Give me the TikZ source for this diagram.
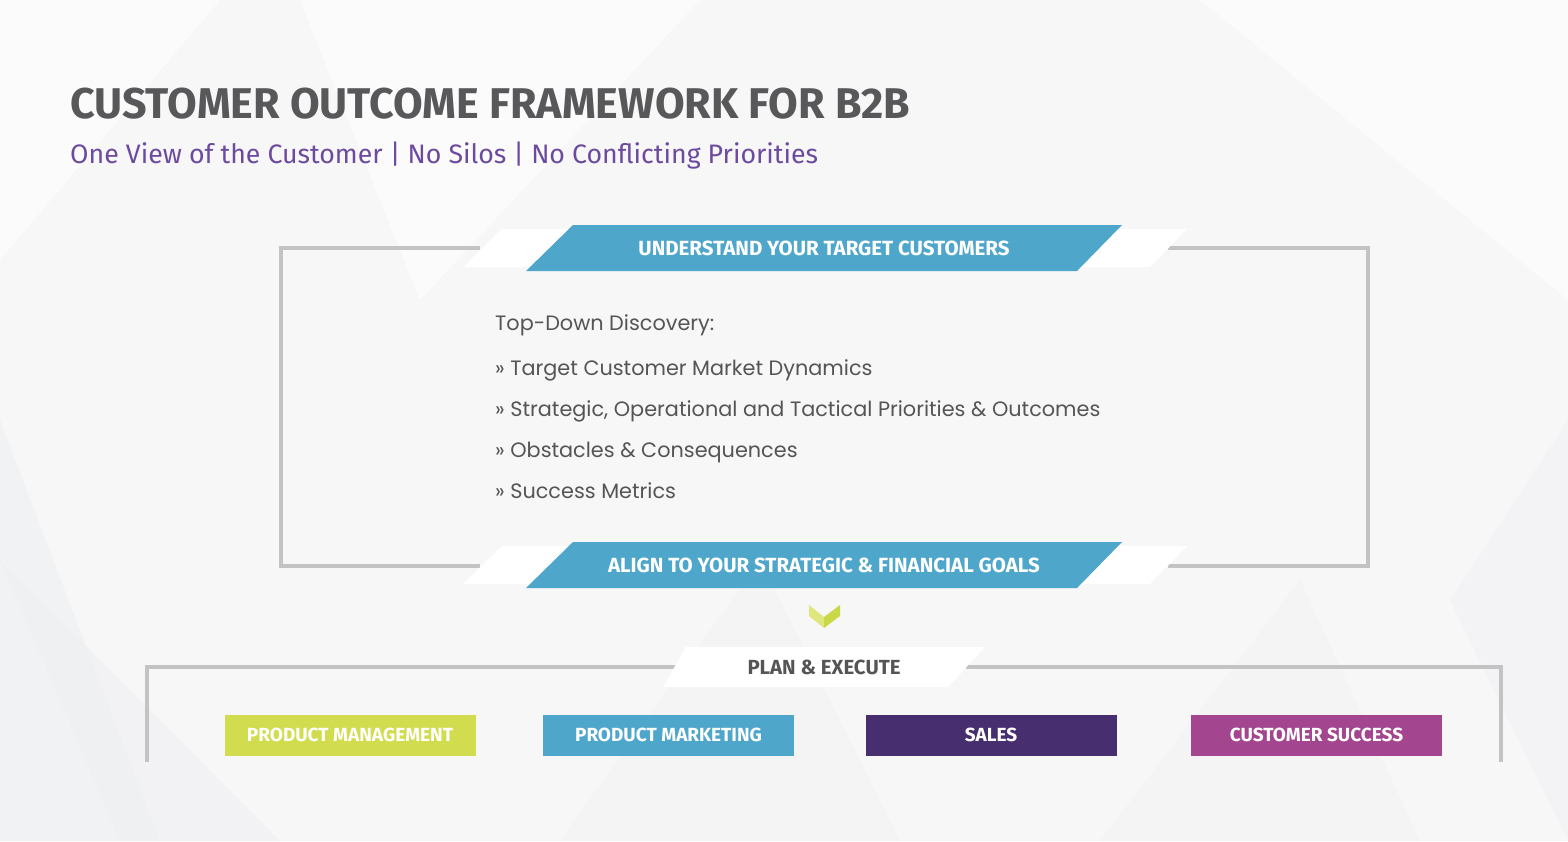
\documentclass[tikz,border=0pt]{standalone}
\usepackage{fontspec}
\setmainfont{Fira Sans}
\newfontfamily\headfont{Fira Sans}
\newfontfamily\bodyfont{Poppins}
\newfontfamily\subfont{Fira Sans}
\usetikzlibrary{calc}
\definecolor{bgc}{HTML}{F7F7F8}
\definecolor{facet}{HTML}{EEEFF1}
\definecolor{frame}{HTML}{C3C3C3}
\definecolor{bannerblue}{HTML}{4EA6CB}
\definecolor{titlegray}{HTML}{58585A}
\definecolor{subpurple}{HTML}{6C4A9E}
\definecolor{bodygray}{HTML}{555555}
\definecolor{lime}{HTML}{D1DC4F}
\definecolor{limelight}{HTML}{DFE67E}
\definecolor{limedark}{HTML}{C8D846}
\definecolor{salespurple}{HTML}{472E6E}
\definecolor{csmagenta}{HTML}{A3458F}
\tikzset{
  frameline/.style={draw=frame, line width=4pt},
  whiteband/.style={fill=white, draw=none},
  bluebanner/.style={fill=bannerblue, draw=none},
  bannertext/.style={text=white, font=\headfont\bfseries\fontsize{20.5}{24}\selectfont, inner sep=0pt},
  bodytext/.style={anchor=base west, inner sep=0pt, text=bodygray, font=\bodyfont\fontsize{20.8}{24}\selectfont},
  teambox/.style={minimum width=251pt, minimum height=41pt, inner sep=0pt, text=white,
    font=\headfont\bfseries\fontsize{19}{22}\selectfont},
}
\begin{document}
\begin{tikzpicture}[x=1pt,y=-1pt]
\useasboundingbox (0,0) rectangle (1568,841);
% background
\fill[bgc] (0,0) rectangle (1568,841);
\fill[facet, opacity=0.6] (0,420) -- (160,841) -- (0,841) -- cycle;
\fill[facet, opacity=0.5] (0,560) -- (280,841) -- (120,841) -- cycle;
\fill[white, opacity=0.6] (300,0) -- (700,0) -- (420,300) -- cycle;
\fill[white, opacity=0.5] (1200,0) -- (1568,0) -- (1568,300) -- cycle;
\fill[facet, opacity=0.4] (1450,600) -- (1568,420) -- (1568,841) -- cycle;
\fill[facet, opacity=0.3] (560,841) -- (760,560) -- (900,841) -- cycle;
\fill[facet, opacity=0.3] (1100,841) -- (1300,580) -- (1420,841) -- cycle;
\fill[white, opacity=0.5] (0,0) -- (220,0) -- (0,260) -- cycle;

% title
\node[anchor=base west, inner sep=0pt, text=titlegray,
      font=\headfont\bfseries\fontsize{43}{48}\selectfont] (title) at (70,118) {CUSTOMER OUTCOME FRAMEWORK FOR B2B};
\node[anchor=base west, inner sep=0pt, text=subpurple,
      font=\subfont\fontsize{26.7}{30}\selectfont] (subtitle) at (70,163) {One View of the Customer | No Silos | No Conflicting Priorities};

% upper frame
\draw[frameline] (480,248) -- (281,248) -- (281,566) -- (480,566);
\draw[frameline] (1168,248) -- (1368,248) -- (1368,566) -- (1168,566);

% banner 1
\fill[whiteband] (502,229) -- (1187,229) -- (1150,267) -- (463,267) -- cycle;
\fill[bluebanner] (573,225) -- (1122,225) -- (1077,271) -- (526,271) -- cycle;
\node[bannertext] (banner1) at (824,248) {UNDERSTAND YOUR TARGET CUSTOMERS};

% body text
\node[bodytext] (disc) at (495,330) {Top-Down Discovery:};
\node[bodytext] (item1) at (495,375) {» Target Customer Market Dynamics};
\node[bodytext] (item2) at (495,416) {» Strategic, Operational and Tactical Priorities \& Outcomes};
\node[bodytext] (item3) at (495,457) {» Obstacles \& Consequences};
\node[bodytext] (item4) at (495,498) {» Success Metrics};

% banner 2
\fill[whiteband] (502,546) -- (1187,546) -- (1150,584) -- (463,584) -- cycle;
\fill[bluebanner] (573,542) -- (1122,542) -- (1077,588) -- (526,588) -- cycle;
\node[bannertext] (banner2) at (824,565) {ALIGN TO YOUR STRATEGIC \& FINANCIAL GOALS};

% chevron
\coordinate (chev) at (824,617);
\fill[limelight] (809,605) -- (824,617) -- (824,628) -- (809,616) -- cycle;
\fill[limedark] (824,617) -- (840,605) -- (840,616) -- (824,628) -- cycle;

% lower frame
\draw[frameline] (147,762) -- (147,667) -- (680,667);
\draw[frameline] (966,667) -- (1501,667) -- (1501,762);
\fill[whiteband] (686,647) -- (985,647) -- (948,687) -- (663,687) -- cycle;
\node[inner sep=0pt, text=bodygray, font=\headfont\bfseries\fontsize{20.4}{24}\selectfont] (plan) at (824,667) {PLAN \& EXECUTE};

% team boxes
\node[teambox, fill=lime] (pm) at (350,735) {PRODUCT MANAGEMENT};
\node[teambox, fill=bannerblue] (pmk) at (668.5,735) {PRODUCT MARKETING};
\node[teambox, fill=salespurple] (sales) at (991,735) {SALES};
\node[teambox, fill=csmagenta] (cs) at (1316.5,735) {CUSTOMER SUCCESS};
\end{tikzpicture}
\end{document}
